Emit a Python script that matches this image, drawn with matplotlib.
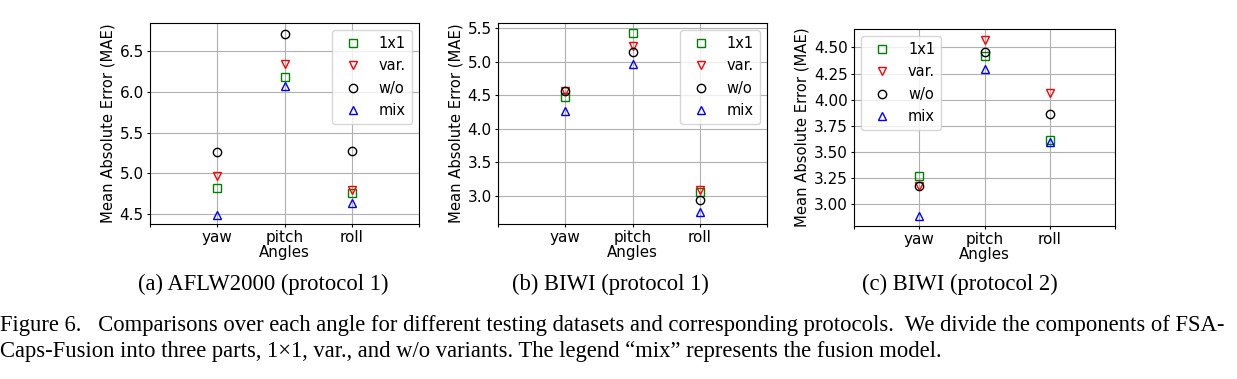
"""Per-angle MAE comparison of the FSA-Caps-Fusion variants (Figure 6)."""

import matplotlib

matplotlib.use("Agg")
import matplotlib.pyplot as plt


ANGLES = ["yaw", "pitch", "roll"]
VARIANTS = ["1x1", "var.", "w/o", "mix"]

# MAE per angle (yaw, pitch, roll)
AFLW_P1_1X1 = [4.82, 6.19, 4.76]
AFLW_P1_VAR = [4.97, 6.35, 4.79]
AFLW_P1_WO = [5.26, 6.71, 5.28]
AFLW_P1_MIX = [4.49, 6.07, 4.63]

BIWI_P1_1X1 = [4.47, 5.43, 3.06]
BIWI_P1_VAR = [4.57, 5.24, 3.08]
BIWI_P1_WO = [4.56, 5.15, 2.94]
BIWI_P1_MIX = [4.26, 4.96, 2.76]

BIWI_P2_1X1 = [3.27, 4.42, 3.61]
BIWI_P2_VAR = [3.17, 4.57, 4.06]
BIWI_P2_WO = [3.17, 4.46, 3.86]
BIWI_P2_MIX = [2.89, 4.29, 3.60]

SUBCAPTIONS = ["(a) AFLW2000 (protocol 1)", "(b) BIWI (protocol 1)", "(c) BIWI (protocol 2)"]
CAPTION_1 = ("Figure 6.   Comparisons over each angle for different testing datasets and "
             "corresponding protocols.  We divide the components of FSA-")
CAPTION_2 = ("Caps-Fusion into three parts, 1\u00d71, var., and w/o variants. "
             "The legend \u201cmix\u201d represents the fusion model.")

STYLES = {
    "1x1": dict(marker="s", color="green"),
    "var.": dict(marker="v", color="red"),
    "w/o": dict(marker="o", color="black"),
    "mix": dict(marker="^", color="blue"),
}

W, H = 1237, 379


def px_axes(fig, left, right, top, bottom):
    return fig.add_axes([left / W, 1 - bottom / H, (right - left) / W, (bottom - top) / H])


def draw_panel(ax, series, ylim, yticks, legend_loc):
    xs = [1, 2, 3]
    for name, vals in zip(VARIANTS, series):
        st = STYLES[name]
        ax.plot(xs, vals, ls="none", marker=st["marker"], mfc="none", mec=st["color"],
                ms=6, mew=1.0, label=name)
    ax.set_xlim(0, 4)
    ax.set_ylim(*ylim)
    ax.set_xticks([0, 1, 2, 3, 4])
    ax.set_xticklabels([""] + ANGLES + [""])
    ax.set_yticks(yticks)
    ax.grid(True, color="#b0b0b0", lw=0.8)
    ax.tick_params(labelsize=11, length=2.5, pad=2)
    ax.set_xlabel("Angles", fontsize=10.8, labelpad=0)
    ax.set_ylabel("Mean Absolute Error (MAE)", fontsize=10.6, labelpad=3)
    ax.legend(loc=legend_loc, fontsize=10.5, framealpha=0.8)


def main():
    fig = plt.figure(figsize=(W / 100, H / 100), dpi=100)

    ax1 = px_axes(fig, 150, 419, 23, 224)
    draw_panel(ax1, [AFLW_P1_1X1, AFLW_P1_VAR, AFLW_P1_WO, AFLW_P1_MIX],
               (4.377, 6.85), [4.5, 5.0, 5.5, 6.0, 6.5], "upper right")

    ax2 = px_axes(fig, 498, 767, 23, 224)
    draw_panel(ax2, [BIWI_P1_1X1, BIWI_P1_VAR, BIWI_P1_WO, BIWI_P1_MIX],
               (2.577, 5.58), [3.0, 3.5, 4.0, 4.5, 5.0, 5.5], "upper right")

    ax3 = px_axes(fig, 854, 1115, 29, 226)
    draw_panel(ax3, [BIWI_P2_1X1, BIWI_P2_VAR, BIWI_P2_WO, BIWI_P2_MIX],
               (2.792, 4.676), [3.0, 3.25, 3.5, 3.75, 4.0, 4.25, 4.5], "upper left")

    serif = ["Liberation Serif", "DejaVu Serif"]
    for cx, text in zip([263, 610, 960], SUBCAPTIONS):
        fig.text(cx / W, 1 - 284 / H, text, ha="center", va="center",
                 family=serif, fontsize=16.3)
    fig.text(0, 1 - 325 / H, CAPTION_1, ha="left", va="center", family=serif, fontsize=16.3)
    fig.text(0, 1 - 351 / H, CAPTION_2, ha="left", va="center", family=serif, fontsize=16.3)

    fig.savefig("out.png", dpi=100)
    plt.close(fig)


if __name__ == "__main__":
    main()
